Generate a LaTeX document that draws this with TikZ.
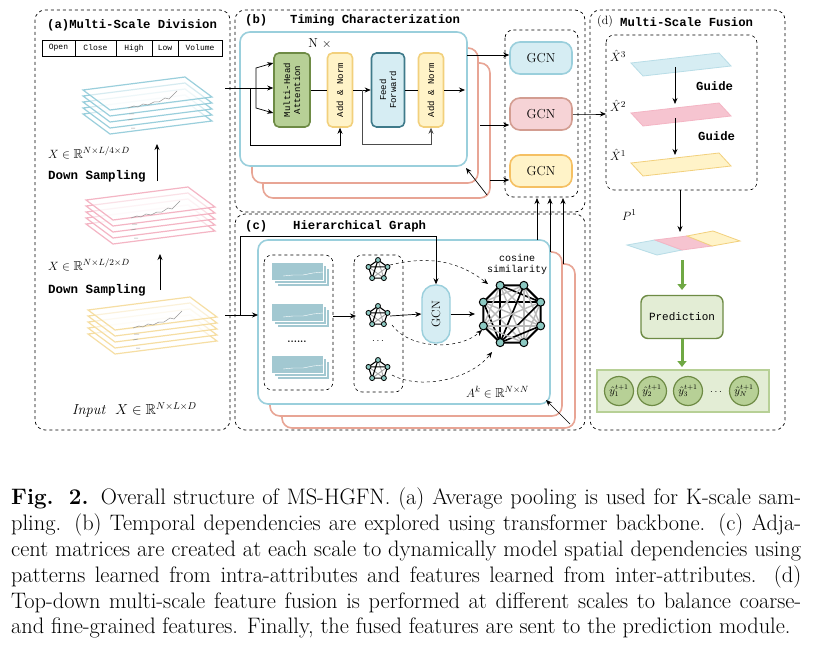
\documentclass[tikz,border=0pt]{standalone}
\usepackage{amssymb}
\usepackage{fontspec}
\setmonofont{Liberation Mono}
\usetikzlibrary{arrows.meta,calc,shapes.geometric}
\definecolor{bB}{HTML}{9ACFDC}\definecolor{bF}{HTML}{D6EDF3}
\definecolor{pB}{HTML}{E8A595}\definecolor{pF}{HTML}{F6D3D6}\definecolor{pS}{HTML}{F4B5C4}
\definecolor{yB}{HTML}{F2D07C}\definecolor{yF}{HTML}{FFF3C8}
\definecolor{gB}{HTML}{6E8B45}\definecolor{gF}{HTML}{B7D096}\definecolor{gL}{HTML}{E3EDD5}
\definecolor{fB}{HTML}{3F7A8A}\definecolor{tn}{HTML}{8CC9C2}
\definecolor{gA}{HTML}{6FA844}
\tikzset{
 panel/.style={draw,dashed,rounded corners=10pt,line width=0.7pt},
 ar/.style={-{Stealth[length=6pt,width=5pt]},line width=0.7pt},
 ttl/.style={font=\ttfamily\bfseries\fontsize{12.3}{13}\selectfont,anchor=west,inner sep=0},
 blk/.style={draw,rounded corners=5pt,line width=1.6pt,minimum width=74pt,font=\ttfamily\fontsize{9}{10}\selectfont,align=center,inner sep=1pt},
 gcn/.style={draw,rounded corners=10pt,line width=1.6pt,minimum width=62pt,minimum height=32pt,font=\fontsize{13}{14}\selectfont},
 big/.style={rounded corners=10pt,line width=1.6pt,fill=white},
 gn/.style={circle,draw=black,fill=tn,line width=0.8pt,inner sep=0,minimum size=5pt},
 Gn/.style={circle,draw=black,fill=tn,line width=1pt,inner sep=0,minimum size=8pt},
 mth/.style={font=\fontsize{13}{14}\selectfont,anchor=west,inner sep=0},
}
\newcommand\sheet[4]{% x y fill draw
 \draw[#4,fill=#3,line width=1.2pt,fill opacity=0.6] (#1,#2) -- ++(102,-13) -- ++(27,20) -- ++(-102,13) -- cycle;}
\newcommand\sstack[3]{%
 \foreach \k in {4,3,2,1,0}{\sheet{#1}{#2+6*\k}{white}{#3}}
 \draw[gray!80,line width=0.5pt] (#1+45,#2+18) -- ++(6,-2) -- ++(4,1) -- ++(5,-3)-- ++(5,1) -- ++(6,-3) -- ++(5,0) -- ++(6,-4) -- ++(4,1) -- ++(5,-5) -- ++(3,-3);
 \draw[gray!80,line width=0.5pt] (#1+45,#2+30) -- ++(5,-1) (#1+48,#2+38) -- ++(4,0) (#1+46,#2+24)--++(5,0);}
\newcommand\pent[2]{%
 \foreach \i in {0,...,4}{\coordinate (q\i) at ($(#1,#2)+({90+72*\i}:-10)$);}
 \draw[gray!70,line width=0.9pt] (q0)--(q2) (q1)--(q3) (q2)--(q4);
 \draw[line width=1.1pt] (q0)--(q1)--(q2)--(q3)--(q4)--cycle (q0)--(q3) (q1)--(q4);
 \foreach \i in {0,...,4}{\node[gn] at (q\i){};}}
\newcommand\card[2]{%
 \foreach \k in {2,1,0}{\fill[bB!90!black!80, draw=white,line width=0.6pt] (#1+3*\k,#2+3*\k) rectangle ++(52,18);}
 \draw[white,line width=0.4pt] (#1+12,#2+14) -- ++(10,-1) -- ++(10,0) -- ++(10,-2) -- ++(10,-1);}
\begin{document}
\begin{tikzpicture}[x=1pt,y=-1pt]
\useasboundingbox (0,0) rectangle (813,650);
\fill[white] (0,0) rectangle (813,650);
% ===== panels
\draw[panel] (35,10) rectangle (230,430);
\draw[panel] (235,10) rectangle (585,212);
\draw[panel] (235,214) rectangle (585,430);
\draw[panel] (590,10) rectangle (785,430);
% ===== (a)
\node[ttl] (ta) at (47,25) {(a)Multi-Scale Division};
\foreach \a/\b/\t in {42/75/Open,75/116/Close,116/152/High,152/178/Low,178/222/Volume}{
 \draw[line width=0.6pt] (\a,40) rectangle (\b,56);
 \node[font=\ttfamily\fontsize{8}{9}\selectfont] at ({(\a+\b)/2},48) {\t};}
\sstack{83}{90}{bB}
\sstack{86}{200}{pS}
\sstack{88}{310}{yB!70}
\node[mth] (x4) at (48,153) {$X\in\mathbb{R}^{N\times L/4\times D}$};
\node[ttl,font=\ttfamily\bfseries\fontsize{12.5}{13}\selectfont] (d1) at (48,176) {Down Sampling};
\coordinate (u1) at (157,181); \coordinate (u1t) at (157,144);
\draw[ar] (u1) -- (u1t);
\node[mth] (x2) at (48,265) {$X\in\mathbb{R}^{N\times L/2\times D}$};
\node[ttl,font=\ttfamily\bfseries\fontsize{12.5}{13}\selectfont] (d2) at (48,290) {Down Sampling};
\coordinate (u2) at (160,290); \coordinate (u2t) at (160,254);
\draw[ar] (u2) -- (u2t);
\node[mth,font=\fontsize{14.5}{15}\selectfont] (inp) at (72,410) {\textit{Input}\ \ $X\in\mathbb{R}^{N\times L\times D}$};
% ===== (b)
\node[ttl] (tb) at (245,20) {(b)};
\node[ttl] (tb2) at (290,20) {Timing Characterization};
\draw[big,draw=pB] (263,63) rectangle (490,198);
\draw[big,draw=pB] (252,48) rectangle (478,183);
\draw[big,draw=bB] (240,32) rectangle (467,166);
\node[font=\fontsize{13}{14}\selectfont] (nx) at (320,44) {N $\times$};
\node[blk,draw=gB,fill=gF,minimum height=36pt,rotate=90] (mha) at (292,90) {Multi-Head\\Attention};
\node[blk,draw=yB,fill=yF,minimum height=25pt,rotate=90] (an1) at (340,90) {Add \& Norm};
\node[blk,draw=fB,fill=bF,minimum height=33pt,rotate=90] (ff) at (388,90) {Feed\\Forward};
\node[blk,draw=yB,fill=yF,minimum height=25pt,rotate=90] (an2) at (431,90) {Add \& Norm};
\coordinate (bin) at (225,88);
\draw[ar] (bin) -- (mha.north|-0,88);
\draw[ar] (256,88) -- (256,68) -- (mha.north|-0,63);
\draw[ar] (256,88) -- (256,108) -- (mha.north|-0,113);
\draw[ar] (250,88) -- (250,145) -- (340,145) -- (an1.west);
\draw[line width=0.7pt] (mha.south) -- (an1.north);
\draw[ar] (an1.south) -- (ff.north);
\draw[ar,draw=black!70] (362,90) -- (362,144) -- (431,144) -- (an2.west);
\draw[line width=0.7pt] (ff.south) -- (an2.north);
\draw[ar] (an2.south) -- (465,90);
\draw[panel,rounded corners=8pt] (505,30) rectangle (578,197);
\node[gcn,draw=bB,fill=bF] (g1) at (541,58) {GCN};
\node[gcn,draw=pB!80!gray,fill=pF] (g2) at (541,114) {GCN};
\node[gcn,draw=yB!80!orange,fill=yF] (g3) at (541,171) {GCN};
\draw[ar] (467,55) -- (g1.west|-0,55);
\draw[ar] (480,125) -- (g2.west|-0,125);
\draw[ar] (490,180) -- (g3.west|-0,180);
\coordinate (fb1) at (487,195); \coordinate (fb1t) at (466,168);
\draw[ar] (fb1) -- (fb1t);
% ===== (c)
\node[ttl] (tc) at (245,226) {(c)};
\node[ttl] (tc2) at (293,226) {Hierarchical Graph};
\draw[big,draw=pB] (282,264) rectangle (575,428);
\draw[big,draw=pB] (270,252) rectangle (562,416);
\draw[big,draw=bB] (258,240) rectangle (550,404);
\draw[panel,rounded corners=8pt,line width=0.6pt] (264,255) rectangle (333,390);
\card{271}{262}\card{271}{303}\card{271}{355}
\node at (297,342) {\textbf{......}};
\draw[panel,rounded corners=8pt,line width=0.6pt] (354,255) rectangle (403,392);
\pent{378}{270}\pent{378}{316}\pent{378}{370}
\node at (378,341) {\textbf{$\cdots$}};
\node[draw=bB,fill=bF,rounded corners=13pt,line width=1.4pt,minimum width=28pt,minimum height=58pt] (gc) at (436,314) {};
\node[rotate=90,font=\fontsize{12}{13}\selectfont] at (gc) {GCN};
% big graph
\foreach \i in {0,...,7}{\coordinate (o\i) at ($(512,314)+({22.5+45*\i}:-31)$);}
\foreach \i in {0,...,7}{\foreach \j in {\i,...,7}{\ifnum\i<\j
   \pgfmathtruncatemacro\d{mod(\i*3+\j,3)}
   \ifnum\d=0 \draw[line width=1.6pt] (o\i)--(o\j);\else\draw[gray!55,line width=1.4pt] (o\i)--(o\j);\fi\fi}}
\draw[line width=2pt] (o0)--(o1)--(o2)--(o3)--(o4)--(o5)--(o6)--(o7)--cycle;
\foreach \i in {0,...,7}{\node[Gn] (G\i) at (o\i){};}
\node[font=\ttfamily\fontsize{10}{11}\selectfont,align=center] (cos) at (517,264) {cosine\\similarity};
\node[mth] (ak) at (466,392) {$A^{k}\in\mathbb{R}^{N\times N}$};
\coordinate (cin) at (225,315);
\draw[ar] (cin) -- (258,315);
\draw[ar] (240,315) -- (240,236) -- (436,236) -- (gc.north);
\draw[ar] (333,316) -- (356,316);
\draw[ar] (390,316) -- (gc.west);
\draw[ar] (gc.east) -- (475,314);
\draw[ar,dashed,line width=0.5pt] (390,265) .. controls (430,255) and (460,262) .. (488,284);
\draw[ar,dashed,line width=0.5pt] (392,325) .. controls (410,350) and (460,350) .. (482,330);
\draw[ar,dashed,line width=0.5pt] (392,375) .. controls (420,390) and (470,380) .. (492,352);
\coordinate (fb2) at (570,424); \coordinate (fb2t) at (546,400);
\draw[ar] (fb2) -- (fb2t);
\draw[ar] (537,240) -- (537,198);
\draw[ar] (550,252) -- (550,198);
\draw[ar] (563,264) -- (563,198);
% ===== (d)
\node[ttl,font=\fontsize{12}{12}\selectfont] (td) at (597,22) {(d)};
\node[ttl] (td2) at (620,22) {Multi-Scale Fusion};
\draw[panel,rounded corners=8pt,line width=0.6pt] (606,35) rectangle (757,190);
\draw[ar] (g2.east) -- (590,114) -- (606,114);
\newcommand\fsheet[5]{\draw[#4,fill=#3,line width=0.8pt] (#1,#2) -- ++(88,-10) -- ++(#5,13) -- ++(-88,10) -- cycle;}
\fsheet{631}{63}{bF}{bB!70}{12}
\fsheet{631}{113}{pS!80}{pS}{12}
\fsheet{631}{163}{yF}{yB}{12}
\node[mth] (xh3) at (610,56) {$\hat X^{3}$};
\node[mth] (xh2) at (610,106) {$\hat X^{2}$};
\node[mth] (xh1) at (610,155) {$\hat X^{1}$};
\node[ttl] (gd1) at (696,86) {Guide};
\node[ttl] (gd2) at (698,136) {Guide};
\draw[ar] (675,67) -- (675,104);
\draw[ar] (675,118) -- (675,155);
\draw[ar] (680,190) -- (680,232);
\node[mth] (p1) at (622,215) {$P^{1}$};
\draw[bB!70,fill=bF,line width=0.8pt] (627,245) -- (655,240) -- (682,250) -- (657,255) -- cycle;
\draw[pS,fill=pS!80,line width=0.8pt] (655,240) -- (687,236) -- (712,246) -- (682,250) -- cycle;
\draw[yB,fill=yF,line width=0.8pt] (687,236) -- (713,231) -- (740,241) -- (712,246) -- cycle;
\draw[gA,line width=3pt,-{Triangle[length=6pt,width=9pt]}] (682,260) -- (682,290);
\node[draw=gB,fill=gL,rounded corners=7pt,line width=1.4pt,minimum width=82pt,minimum height=43pt,font=\ttfamily\fontsize{11}{12}\selectfont] (pred) at (682,317) {Prediction};
\draw[gA,line width=3pt,-{Triangle[length=6pt,width=9pt]}] (pred.south) -- (682,367);
\node[draw=gF,fill=gL,line width=2pt,minimum width=172pt,minimum height=42pt] (out) at (683,391) {};
\foreach \x/\s in {619/1,652/2,688/3,744/N}{
 \node[circle,draw=gB,fill=gF,line width=1.2pt,minimum size=29pt,inner sep=0,font=\fontsize{10.5}{10.5}\selectfont] at (\x,391) {$\hat y_{\s}^{t+1}$};}
\node at (716,392) {$\cdots$};
% ===== caption
\node[anchor=north west,inner sep=0,text width=790pt,align=justify,font=\fontsize{22.4}{25.8}\selectfont] (cap) at (11,488) {%
\textbf{Fig. 2.} Overall structure of MS-HGFN. (a) Average pooling is used for K-scale sam-\linebreak pling. (b) Temporal dependencies are explored using transformer backbone. (c) Adja-\linebreak cent matrices are created at each scale to dynamically model spatial dependencies using\linebreak patterns learned from intra-attributes and features learned from inter-attributes. (d)\linebreak Top-down multi-scale feature fusion is performed at different scales to balance coarse-\linebreak and fine-grained features. Finally, the fused features are sent to the prediction module.};
\end{tikzpicture}
\end{document}
